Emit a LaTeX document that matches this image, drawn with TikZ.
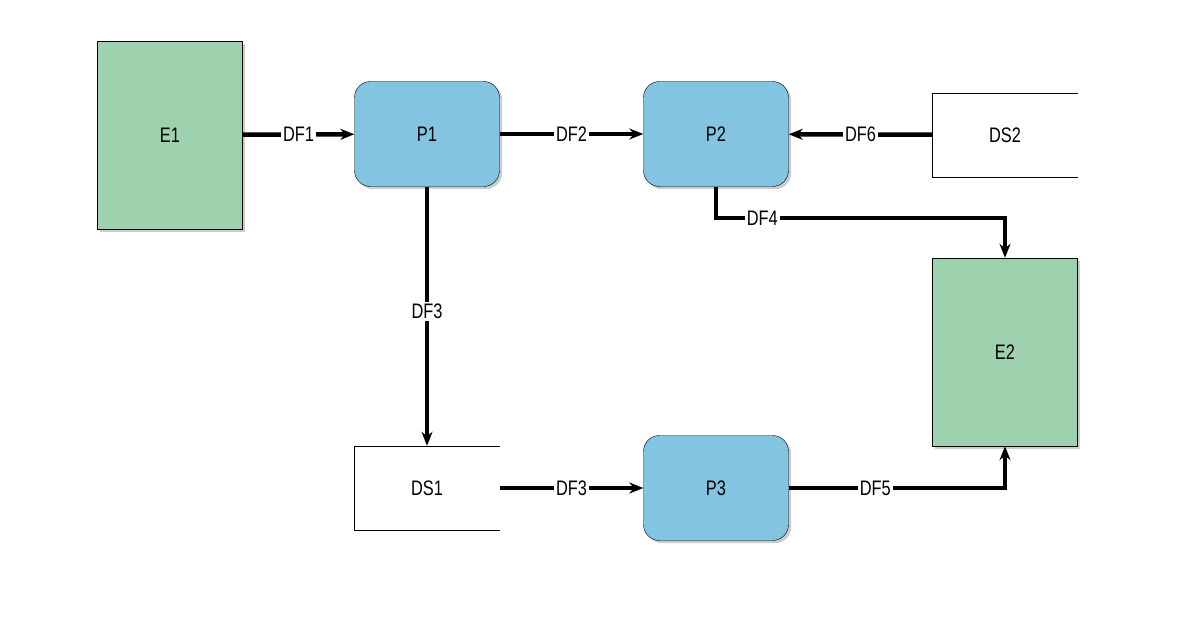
\documentclass[tikz,border=0pt]{standalone}
\usepackage{fontspec}
\setmainfont{Liberation Sans}[FakeStretch=0.78]
\usetikzlibrary{shadows,arrows.meta}
\definecolor{entgreen}{RGB}{158,210,174}
\definecolor{procblue}{RGB}{130,196,225}
\begin{document}
\begin{tikzpicture}[x=1pt,y=-1pt,font=\fontsize{21}{24}\selectfont,
  entity/.style={draw, fill=entgreen, minimum width=145pt, minimum height=188pt, drop shadow={opacity=0.4}},
  process/.style={draw, fill=procblue, rounded corners=16pt, minimum width=145pt, minimum height=105pt, drop shadow={opacity=0.4}},
  store/.style={minimum width=145pt, minimum height=84pt},
  flow/.style={line width=4.5pt, -{Stealth[length=14pt,width=11pt]}},
  lbl/.style={fill=white, inner sep=2pt}]
  \useasboundingbox (0,0) rectangle (1202,618);
  % nodes
  \node [entity] (e1) at (170,135) {E1};
  \node [process] (p1) at (427,134) {P1};
  \node [process] (p2) at (716,134) {P2};
  \node [store] (ds2) at (1005,135) {DS2};
  \node [entity] (e2) at (1005,352) {E2};
  \node [store] (ds1) at (427,488) {DS1};
  \node [process] (p3) at (716,488) {P3};
  % open stores
  \draw (ds2.north east) -- (ds2.north west) -- (ds2.south west) -- (ds2.south east);
  \draw (ds1.north east) -- (ds1.north west) -- (ds1.south west) -- (ds1.south east);
  % flows
  \draw [flow] (e1) -- node [lbl] {DF1} (p1);
  \draw [flow] (p1) -- node [lbl] {DF2} (p2);
  \draw [flow] (ds2) -- node [lbl] {DF6} (p2);
  \draw [flow] (p1) -- node [lbl, pos=0.48] {DF3} (ds1);
  \draw [flow] (ds1) -- node [lbl] {DF3} (p3);
  \coordinate (c4) at (1005,218);
  \coordinate (c5) at (1005,488);
  \draw [flow] (p2.south) |- node [lbl, pos=0.58] {DF4} (c4) -- (e2.north);
  \draw [flow] (p3) -- node [lbl, pos=0.4] {DF5} (c5) -- (e2.south);
\end{tikzpicture}
\end{document}
